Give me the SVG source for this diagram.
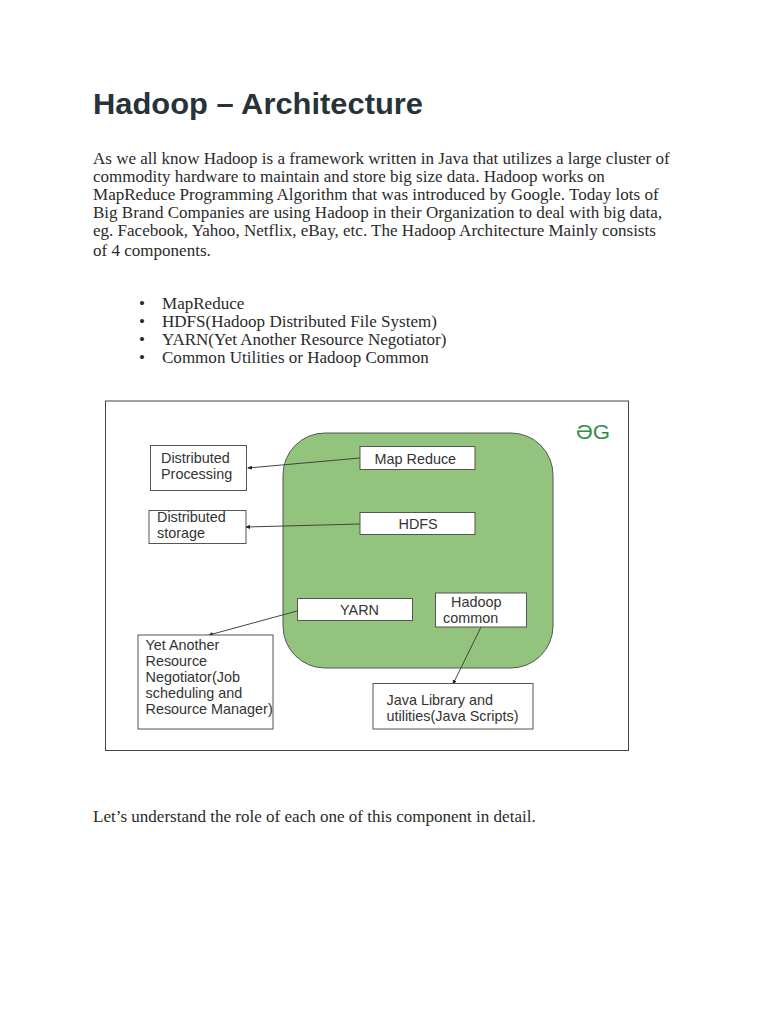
<svg xmlns="http://www.w3.org/2000/svg" width="768" height="1024" viewBox="0 0 768 1024">
<defs><marker id="a" markerWidth="5" markerHeight="4" refX="4" refY="2" orient="auto" markerUnits="userSpaceOnUse"><path d="M0,0L5,2L0,4z" fill="#222"/></marker></defs>
<style>
.b{font:17.05px "Liberation Serif",serif;fill:#2a2a2a}
.d{font:14.4px "Liberation Sans",sans-serif;fill:#333}
.n{fill:#fff;stroke:#555;stroke-width:1}
.c{stroke:#444;stroke-width:1;fill:none;marker-end:url(#a)}
</style>
<rect width="768" height="1024" fill="#fff"/>
<text x="93" y="114" textLength="330" lengthAdjust="spacingAndGlyphs" font-family="'Liberation Sans',sans-serif" font-weight="700" font-size="29" fill="#273239">Hadoop – Architecture</text>
<g class="b">
<text x="93" y="163.500">As we all know Hadoop is a framework written in Java that utilizes a large cluster of</text>
<text x="93" y="181.500">commodity hardware to maintain and store big size data. Hadoop works on</text>
<text x="93" y="199.500">MapReduce Programming Algorithm that was introduced by Google. Today lots of</text>
<text x="93" y="217.500">Big Brand Companies are using Hadoop in their Organization to deal with big data,</text>
<text x="93" y="235.500">eg. Facebook, Yahoo, Netflix, eBay, etc. The Hadoop Architecture Mainly consists</text>
<text x="93" y="255.500">of 4 components.</text>
<text x="139" y="308.500">•</text><text x="162" y="308.500">MapReduce</text>
<text x="139" y="326.500">•</text><text x="162" y="326.500">HDFS(Hadoop Distributed File System)</text>
<text x="139" y="344.500">•</text><text x="162" y="344.500">YARN(Yet Another Resource Negotiator)</text>
<text x="139" y="362.500">•</text><text x="162" y="362.500">Common Utilities or Hadoop Common</text>
<text x="93" y="821.500">Let’s understand the role of each one of this component in detail.</text>
</g>
<rect id="frame" x="105.500" y="401" width="523" height="349.500" fill="#fff" stroke="#444"/>
<rect id="cluster" x="283" y="433" width="270" height="235" rx="42" fill="#93c47d" stroke="#555"/>
<g id="gg"><text x="576" y="439" textLength="34" lengthAdjust="spacingAndGlyphs" font-family="'Liberation Sans',sans-serif" font-size="21" fill="#2f8d46">ƏG</text></g>
<g id="connectors">
<path class="c" d="M360 458L248 468"/>
<path class="c" d="M360 524L246 527"/>
<path class="c" d="M297 611L209 635"/>
<path class="c" d="M481 627L453 684"/>
</g>
<g id="n1"><rect class="n" x="150.500" y="445.500" width="96" height="45"/><text class="d" x="161" y="463">Distributed</text><text class="d" x="161" y="479">Processing</text></g>
<g id="n2"><rect class="n" x="149" y="510.500" width="97" height="33"/><text class="d" x="157" y="522">Distributed</text><text class="d" x="157" y="538">storage</text></g>
<g id="n3"><rect class="n" x="360" y="446.500" width="115" height="23"/><text class="d" x="374.500" y="464">Map Reduce</text></g>
<g id="n4"><rect class="n" x="360" y="512.500" width="115" height="22"/><text class="d" x="398.500" y="529">HDFS</text></g>
<g id="n5"><rect class="n" x="297.500" y="598.500" width="115" height="22"/><text class="d" x="340" y="615">YARN</text></g>
<g id="n6"><rect class="n" x="435.500" y="593" width="91" height="34"/><text class="d" x="451" y="607">Hadoop</text><text class="d" x="443" y="623">common</text></g>
<g id="n7"><rect class="n" x="138" y="635" width="135" height="94"/><text class="d" x="145.500" y="650">Yet Another</text><text class="d" x="145.500" y="666">Resource</text><text class="d" x="145.500" y="682">Negotiator(Job</text><text class="d" x="145.500" y="698">scheduling and</text><text class="d" x="145.500" y="714">Resource Manager)</text></g>
<g id="n8"><rect class="n" x="373" y="683.500" width="160" height="45.500"/><text class="d" x="386.500" y="705">Java Library and</text><text class="d" x="386.500" y="721">utilities(Java Scripts)</text></g>
</svg>
